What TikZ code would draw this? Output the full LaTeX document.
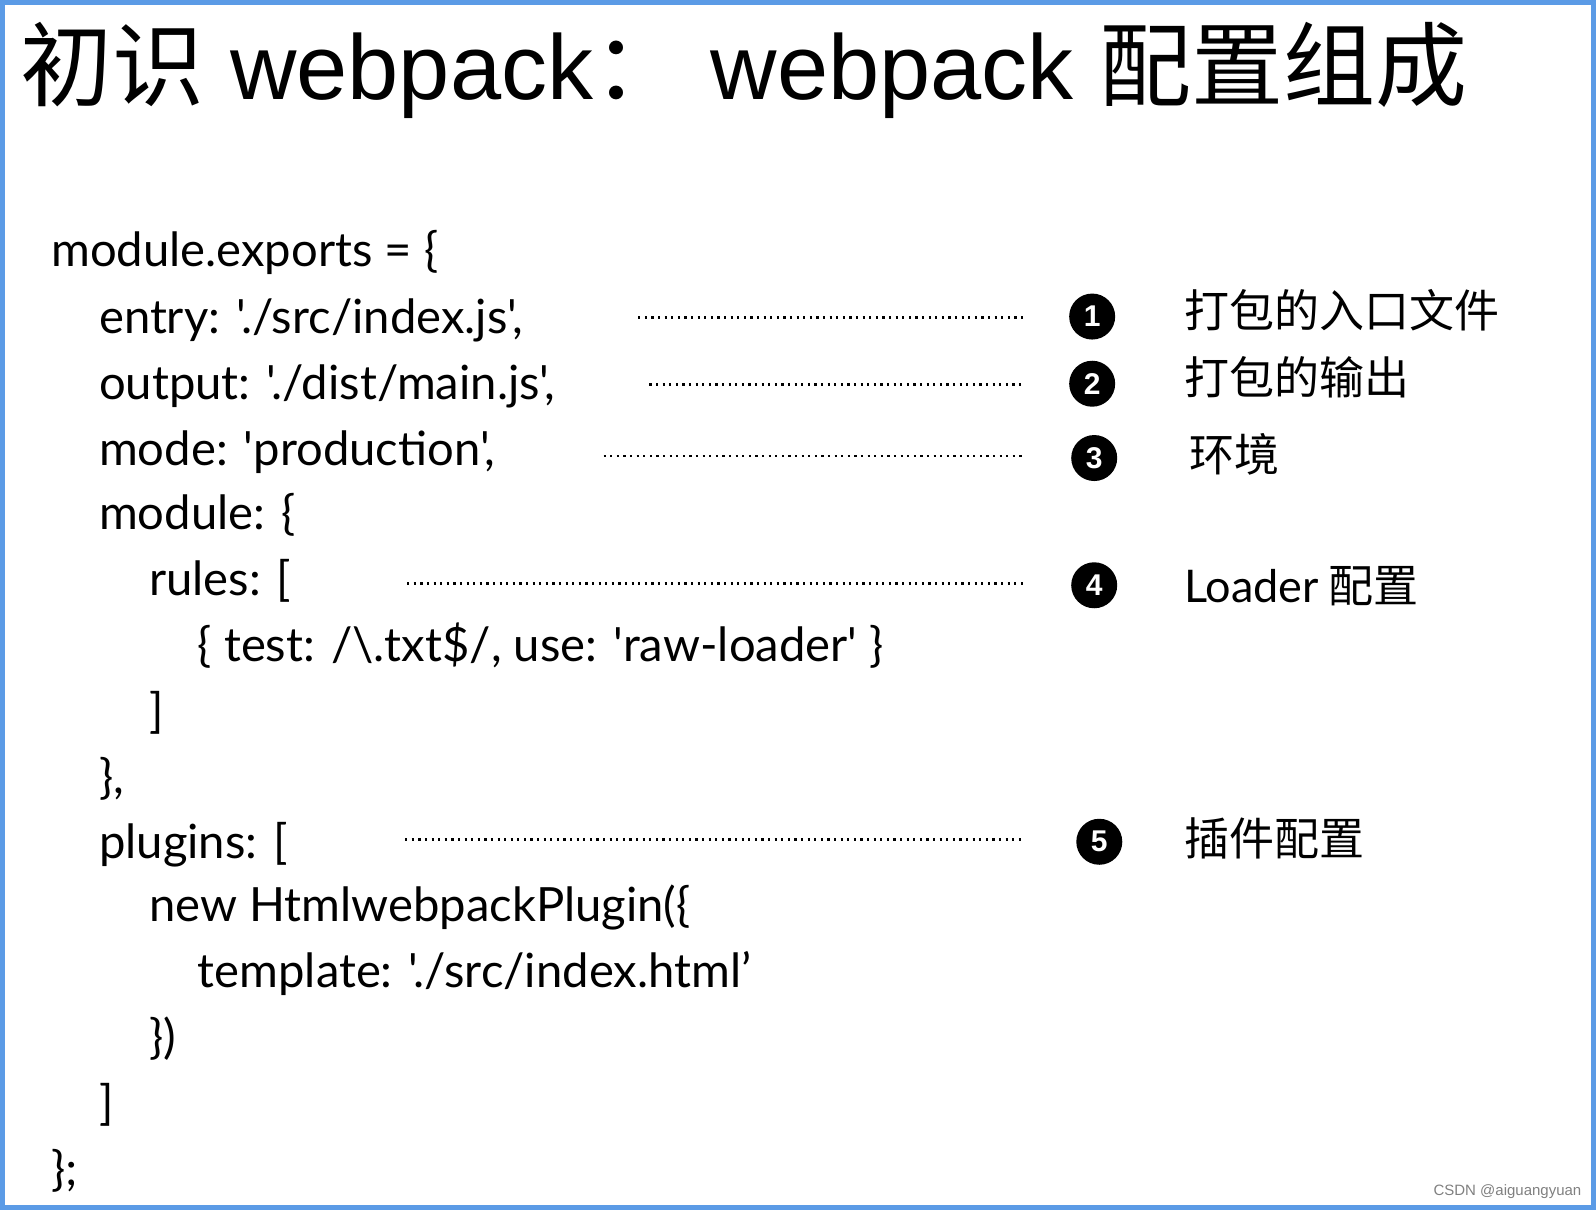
\documentclass[tikz,border=0pt]{standalone}
\usepackage{fontspec}
\setmainfont{Liberation Sans}
\newfontfamily\codef[Ligatures=TeXOff]{Lato}
\newfontfamily\cjk{Noto Sans CJK SC}
\definecolor{bord}{HTML}{5B9BE6}
\begin{document}
\begin{tikzpicture}[x=0.509pt,y=-0.509pt,
  code/.style={anchor=base west,inner sep=0,font=\codef\fontsize{23.6pt}{28pt}\selectfont},
  lab/.style={anchor=base west,inner sep=0,font=\cjk\fontsize{22.5pt}{28pt}\selectfont},
  dots/.style={line width=1.4pt,dash pattern=on 1.1pt off 2.2pt},
  num/.style={circle,fill=black,text=white,minimum size=23pt,inner sep=0,font=\bfseries\fontsize{15pt}{16pt}\selectfont}]
\useasboundingbox (0,0) rectangle (1568,1189);
\draw[bord,line width=2.6pt] (2.5,2.5) rectangle (1565.5,1186.5);
\node[anchor=base west,inner sep=0,font=\fontsize{46pt}{50pt}\selectfont] (title) at (20,98)
 {{\cjk 初识} webpack{\cjk ：} webpack {\cjk 配置组成}};
\node[code] (l1) at (50,262) {module.exports = \{};
\node[code] (l2) at (97,328) {entry: './src/index.js',};
\node[code] (l3) at (97,392) {output: './dist/main.js',};
\node[code] (l4) at (97,457) {mode: 'production',};
\node[code] (l5) at (97,520) {module: \{};
\node[code] (l6) at (146,585) {rules: [};
\node[code] (l7) at (194,650) {\{ test: /\textbackslash.txt\$/, use: 'raw-loader' \}};
\node[code] (l8) at (146,715) {]};
\node[code] (l9) at (97,780) {\},};
\node[code] (l10) at (97,843) {plugins: [};
\node[code] (l11) at (146,905) {new HtmlwebpackPlugin(\{};
\node[code] (l12) at (194,970) {template: './src/index.html’};
\node[code] (l13) at (146,1035) {\})};
\node[code] (l14) at (97,1100) {]};
\node[code] (l15) at (50,1165) {\};};
\coordinate (d1) at (627,312); \coordinate (e1) at (1005,312);
\coordinate (d2) at (638,378); \coordinate (e2) at (1005,378);
\coordinate (d3) at (593,448); \coordinate (e3) at (1005,448);
\coordinate (d4) at (400,573); \coordinate (e4) at (1005,573);
\coordinate (d5) at (398,825); \coordinate (e5) at (1003,825);
\foreach \i in {1,...,5} {\draw[dots] (d\i) -- (e\i);}
\node[num] (n1) at (1073,311) {1};
\node[num] (n2) at (1073,377) {2};
\node[num] (n3) at (1075,450) {3};
\node[num] (n4) at (1075,575) {4};
\node[num] (n5) at (1080,827) {5};
\node[lab] (t1) at (1163,322) {打包的入口文件};
\node[lab] (t2) at (1163,388) {打包的输出};
\node[lab] (t3) at (1168,463) {环境};
\node[lab] (t4) at (1163,592) {{\codef Loader} 配置};
\node[lab] (t5) at (1163,840) {插件配置};
\node[anchor=base east,inner sep=0,text=gray,font=\fontsize{7.5pt}{9pt}\selectfont] (wm) at (1554,1175) {CSDN @aiguangyuan};
\end{tikzpicture}
\end{document}
